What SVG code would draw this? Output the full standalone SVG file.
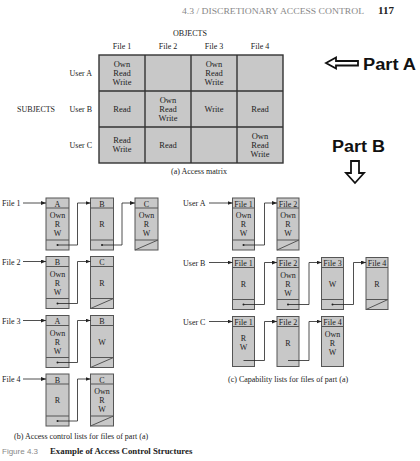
<svg xmlns="http://www.w3.org/2000/svg" width="420" height="461" viewBox="0 0 420 461">
<defs>
<style>
.t{font-family:"Liberation Serif","Times New Roman",serif;font-size:8px;fill:#222;text-anchor:middle}
.m{font-family:"Liberation Serif","Times New Roman",serif;font-size:8.5px;fill:#222;text-anchor:middle}
.l{font-family:"Liberation Serif","Times New Roman",serif;font-size:8px;fill:#222}
.cap{font-family:"Liberation Serif","Times New Roman",serif;font-size:8px;fill:#222}
.box{fill:#c8c8c8;stroke:#555;stroke-width:1}
.bl{stroke:#555;stroke-width:1}
.mcell{fill:#c8c8c8;stroke:#333;stroke-width:1.4}
.ml{stroke:#333;stroke-width:1.4}
.c{fill:none;stroke:#222;stroke-width:0.8}
.part{font-family:"Liberation Sans",Arial,sans-serif;font-weight:900;font-size:16px;fill:#111}
.hol{fill:#fff;stroke:#111;stroke-width:1.8;stroke-linejoin:miter}
</style>
<marker id="ah" markerWidth="5" markerHeight="4" refX="5" refY="2" orient="auto" markerUnits="userSpaceOnUse"><path d="M0,0 L5,2 L0,4 z" fill="#222"/></marker>
</defs>
<rect width="420" height="461" fill="#fff"/>
<!-- page header -->
<text x="182" y="14" font-family="Liberation Serif,serif" font-size="8.5" fill="#888" textLength="182" lengthAdjust="spacingAndGlyphs">4.3 / DISCRETIONARY ACCESS CONTROL</text>
<text x="378" y="14" font-family="Liberation Serif,serif" font-size="11" font-weight="bold" fill="#222">117</text>

<!-- (a) Access matrix -->
<g id="matrix">
<text x="190" y="36" class="m" font-size="7.5" textLength="34" lengthAdjust="spacingAndGlyphs">OBJECTS</text>
<text x="122" y="49" class="t">File 1</text>
<text x="168" y="49" class="t">File 2</text>
<text x="214" y="49" class="t">File 3</text>
<text x="260" y="49" class="t">File 4</text>
<text x="17" y="112" class="l" font-size="7.5" textLength="38" lengthAdjust="spacingAndGlyphs">SUBJECTS</text>
<text x="92" y="76" class="l" text-anchor="end">User A</text>
<text x="92" y="112" class="l" text-anchor="end">User B</text>
<text x="92" y="148" class="l" text-anchor="end">User C</text>
<rect x="99" y="55" width="184" height="108" class="mcell"/>
<line x1="145" y1="55" x2="145" y2="163" class="ml"/>
<line x1="191" y1="55" x2="191" y2="163" class="ml"/>
<line x1="237" y1="55" x2="237" y2="163" class="ml"/>
<line x1="99" y1="91" x2="283" y2="91" class="ml"/>
<line x1="99" y1="127" x2="283" y2="127" class="ml"/>
<text x="122" y="67" class="m">Own</text><text x="122" y="76" class="m">Read</text><text x="122" y="85" class="m">Write</text>
<text x="214" y="67" class="m">Own</text><text x="214" y="76" class="m">Read</text><text x="214" y="85" class="m">Write</text>
<text x="122" y="112" class="m">Read</text>
<text x="168" y="103" class="m">Own</text><text x="168" y="112" class="m">Read</text><text x="168" y="121" class="m">Write</text>
<text x="214" y="112" class="m">Write</text>
<text x="260" y="112" class="m">Read</text>
<text x="122" y="143" class="m">Read</text><text x="122" y="152" class="m">Write</text>
<text x="168" y="148" class="m">Read</text>
<text x="260" y="139" class="m">Own</text><text x="260" y="148" class="m">Read</text><text x="260" y="157" class="m">Write</text>
<text x="171" y="174" class="cap">(a) Access matrix</text>
</g>

<!-- Part labels -->
<g id="partA">
<path d="M326,63 L336,57.5 L336,61 L358,61 L358,65.5 L336,65.5 L336,68.5 Z" class="hol"/>
<text x="363" y="70" class="part" textLength="53" lengthAdjust="spacingAndGlyphs">Part A</text>
</g>
<g id="partB">
<text x="332" y="152" class="part" textLength="53" lengthAdjust="spacingAndGlyphs">Part B</text>
<path d="M351,161 L359,161 L359,173 L364,173 L355,183 L346,173 L351,173 Z" class="hol"/>
</g>

<!-- (b) ACL -->
<g id="acl-file1">
<text x="2" y="206" class="l">File 1</text>
<rect x="46" y="198" width="23" height="52" class="box"/><line x1="46" y1="208" x2="69" y2="208" class="bl"/><line x1="46" y1="240" x2="69" y2="240" class="bl"/>
<text x="57.5" y="206.5" class="t">A</text><text x="57.5" y="218" class="t">Own</text><text x="57.5" y="227" class="t">R</text><text x="57.5" y="236" class="t">W</text><circle cx="57.5" cy="245" r="1" fill="#222"/>
<rect x="90.5" y="198" width="23" height="52" class="box"/><line x1="90.5" y1="208" x2="113.5" y2="208" class="bl"/><line x1="90.5" y1="240" x2="113.5" y2="240" class="bl"/>
<text x="102" y="206.5" class="t">B</text><text x="102" y="227" class="t">R</text><circle cx="102" cy="245" r="1" fill="#222"/>
<rect x="135" y="198" width="23" height="52" class="box"/><line x1="135" y1="208" x2="158" y2="208" class="bl"/><line x1="135" y1="240" x2="158" y2="240" class="bl"/><line x1="135" y1="250" x2="158" y2="240" class="bl"/>
<text x="146.5" y="206.5" class="t">C</text><text x="146.5" y="218" class="t">Own</text><text x="146.5" y="227" class="t">R</text><text x="146.5" y="236" class="t">W</text>
</g>
<g id="acl-file2">
<text x="2" y="264.5" class="l">File 2</text>
<rect x="46" y="256.5" width="23" height="52" class="box"/><line x1="46" y1="266.5" x2="69" y2="266.5" class="bl"/><line x1="46" y1="298.5" x2="69" y2="298.5" class="bl"/>
<text x="57.5" y="265" class="t">B</text><text x="57.5" y="276.5" class="t">Own</text><text x="57.5" y="285.5" class="t">R</text><text x="57.5" y="294.5" class="t">W</text><circle cx="57.5" cy="303.5" r="1" fill="#222"/>
<rect x="90.5" y="256.5" width="23" height="52" class="box"/><line x1="90.5" y1="266.5" x2="113.5" y2="266.5" class="bl"/><line x1="90.5" y1="298.5" x2="113.5" y2="298.5" class="bl"/><line x1="90.5" y1="308.5" x2="113.5" y2="298.5" class="bl"/>
<text x="102" y="265" class="t">C</text><text x="102" y="285.5" class="t">R</text>
</g>
<g id="acl-file3">
<text x="2" y="323.5" class="l">File 3</text>
<rect x="46" y="315.5" width="23" height="52" class="box"/><line x1="46" y1="325.5" x2="69" y2="325.5" class="bl"/><line x1="46" y1="357.5" x2="69" y2="357.5" class="bl"/>
<text x="57.5" y="324" class="t">A</text><text x="57.5" y="335.5" class="t">Own</text><text x="57.5" y="344.5" class="t">R</text><text x="57.5" y="353.5" class="t">W</text><circle cx="57.5" cy="362.5" r="1" fill="#222"/>
<rect x="90.5" y="315.5" width="23" height="52" class="box"/><line x1="90.5" y1="325.5" x2="113.5" y2="325.5" class="bl"/><line x1="90.5" y1="357.5" x2="113.5" y2="357.5" class="bl"/><line x1="90.5" y1="367.5" x2="113.5" y2="357.5" class="bl"/>
<text x="102" y="324" class="t">B</text><text x="102" y="344.5" class="t">W</text>
</g>
<g id="acl-file4">
<text x="2" y="382" class="l">File 4</text>
<rect x="46" y="374" width="23" height="52" class="box"/><line x1="46" y1="384" x2="69" y2="384" class="bl"/><line x1="46" y1="416" x2="69" y2="416" class="bl"/>
<text x="57.5" y="382.5" class="t">B</text><text x="57.5" y="403" class="t">R</text><circle cx="57.5" cy="421" r="1" fill="#222"/>
<rect x="90.5" y="374" width="23" height="52" class="box"/><line x1="90.5" y1="384" x2="113.5" y2="384" class="bl"/><line x1="90.5" y1="416" x2="113.5" y2="416" class="bl"/><line x1="90.5" y1="426" x2="113.5" y2="416" class="bl"/>
<text x="102" y="382.5" class="t">C</text><text x="102" y="394" class="t">Own</text><text x="102" y="403" class="t">R</text><text x="102" y="412" class="t">W</text>
</g>
<text x="14" y="438.5" class="cap">(b) Access control lists for files of part (a)</text>

<!-- (c) Capability lists -->
<g id="cap-userA">
<text x="183" y="206" class="l">User A</text>
<rect x="232.5" y="198" width="22" height="52" class="box"/><line x1="232.5" y1="208" x2="254.5" y2="208" class="bl"/><line x1="232.5" y1="240" x2="254.5" y2="240" class="bl"/>
<text x="243.5" y="206.5" class="t">File 1</text><text x="243.5" y="218" class="t">Own</text><text x="243.5" y="227" class="t">R</text><text x="243.5" y="236" class="t">W</text><circle cx="243.5" cy="245" r="1" fill="#222"/>
<rect x="277" y="198" width="22" height="52" class="box"/><line x1="277" y1="208" x2="299" y2="208" class="bl"/><line x1="277" y1="240" x2="299" y2="240" class="bl"/><line x1="277" y1="250" x2="299" y2="240" class="bl"/>
<text x="288" y="206.5" class="t">File 2</text><text x="288" y="218" class="t">Own</text><text x="288" y="227" class="t">R</text><text x="288" y="236" class="t">W</text>
</g>
<g id="cap-userB">
<text x="183" y="265.5" class="l">User B</text>
<rect x="232.5" y="257.5" width="22" height="52" class="box"/><line x1="232.5" y1="267.5" x2="254.5" y2="267.5" class="bl"/><line x1="232.5" y1="299.5" x2="254.5" y2="299.5" class="bl"/>
<text x="243.5" y="266" class="t">File 1</text><text x="243.5" y="286.5" class="t">R</text><circle cx="243.5" cy="304.5" r="1" fill="#222"/>
<rect x="277" y="257.5" width="22" height="52" class="box"/><line x1="277" y1="267.5" x2="299" y2="267.5" class="bl"/><line x1="277" y1="299.5" x2="299" y2="299.5" class="bl"/>
<text x="288" y="266" class="t">File 2</text><text x="288" y="277.5" class="t">Own</text><text x="288" y="286.5" class="t">R</text><text x="288" y="295.5" class="t">W</text><circle cx="288" cy="304.5" r="1" fill="#222"/>
<rect x="321.5" y="257.5" width="22" height="52" class="box"/><line x1="321.5" y1="267.5" x2="343.5" y2="267.5" class="bl"/><line x1="321.5" y1="299.5" x2="343.5" y2="299.5" class="bl"/>
<text x="332.5" y="266" class="t">File 3</text><text x="332.5" y="286.5" class="t">W</text><circle cx="332.5" cy="304.5" r="1" fill="#222"/>
<rect x="366" y="257.5" width="22" height="52" class="box"/><line x1="366" y1="267.5" x2="388" y2="267.5" class="bl"/><line x1="366" y1="299.5" x2="388" y2="299.5" class="bl"/><line x1="366" y1="309.5" x2="388" y2="299.5" class="bl"/>
<text x="377" y="266" class="t">File 4</text><text x="377" y="286.5" class="t">R</text>
</g>
<g id="cap-userC">
<text x="183" y="324.5" class="l">User C</text>
<rect x="232.5" y="316.5" width="22" height="50" class="box"/><line x1="232.5" y1="326.5" x2="254.5" y2="326.5" class="bl"/>
<text x="243.5" y="325" class="t">File 1</text><text x="243.5" y="341" class="t">R</text><text x="243.5" y="350" class="t">W</text>
<rect x="277" y="316.5" width="22" height="50" class="box"/><line x1="277" y1="326.5" x2="299" y2="326.5" class="bl"/>
<text x="288" y="325" class="t">File 2</text><text x="288" y="345.5" class="t">R</text>
<rect x="321.5" y="316.5" width="22" height="50" class="box"/><line x1="321.5" y1="326.5" x2="343.5" y2="326.5" class="bl"/>
<text x="332.5" y="325" class="t">File 4</text><text x="332.5" y="336.5" class="t">Own</text><text x="332.5" y="345.5" class="t">R</text><text x="332.5" y="354.5" class="t">W</text>
</g>
<text x="228" y="381.5" class="cap">(c) Capability lists for files of part (a)</text>

<!-- connectors -->
<g id="connectors" marker-end="url(#ah)">
<path class="c" marker-end="url(#ah)" d="M23,203 H46"/>
<path class="c" marker-end="url(#ah)" d="M57.5,245 H77.5 V203 H90.5"/>
<path class="c" marker-end="url(#ah)" d="M102,245 H122 V203 H135"/>
<path class="c" marker-end="url(#ah)" d="M23,261.5 H46"/>
<path class="c" marker-end="url(#ah)" d="M57.5,303.5 H77.5 V261.5 H90.5"/>
<path class="c" marker-end="url(#ah)" d="M23,320.5 H46"/>
<path class="c" marker-end="url(#ah)" d="M57.5,362.5 H77.5 V320.5 H90.5"/>
<path class="c" marker-end="url(#ah)" d="M23,379 H46"/>
<path class="c" marker-end="url(#ah)" d="M57.5,421 H77.5 V379 H90.5"/>
<path class="c" marker-end="url(#ah)" d="M209,203 H232.5"/>
<path class="c" marker-end="url(#ah)" d="M243.5,245 H264.5 V203 H277"/>
<path class="c" marker-end="url(#ah)" d="M209,262.5 H232.5"/>
<path class="c" marker-end="url(#ah)" d="M243.5,304.5 H264.5 V262.5 H277"/>
<path class="c" marker-end="url(#ah)" d="M288,304.5 H309 V262.5 H321.5"/>
<path class="c" marker-end="url(#ah)" d="M332.5,304.5 H353.5 V262.5 H366"/>
<path class="c" marker-end="url(#ah)" d="M209,321.5 H232.5"/>
<path class="c" marker-end="url(#ah)" d="M243.5,360.5 H264.5 V321.5 H277"/>
<path class="c" marker-end="url(#ah)" d="M288,360.5 H309 V321.5 H321.5"/>
</g>

<!-- figure caption -->
<text x="2" y="454" font-family="Liberation Sans,Arial,sans-serif" font-size="8" fill="#888">Figure 4.3</text>
<text x="50" y="454" font-family="Liberation Serif,serif" font-size="8.8" font-weight="bold" fill="#222">Example of Access Control Structures</text>
</svg>
